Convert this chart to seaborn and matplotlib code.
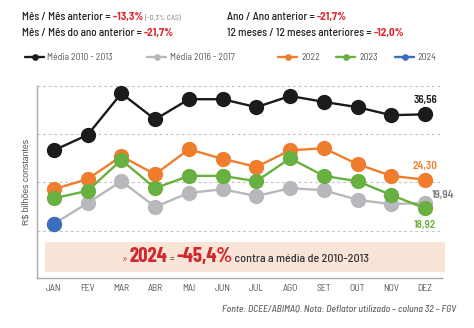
import matplotlib
matplotlib.use("Agg")
import matplotlib.pyplot as plt
from matplotlib.lines import Line2D
from matplotlib.patches import Rectangle
from matplotlib import transforms
import numpy as np
import pandas as pd
import seaborn as sns

# Monthly values, R$ billions (constant prices)
meses = ["JAN", "FEV", "MAR", "ABR", "MAI", "JUN", "JUL", "AGO", "SET", "OUT", "NOV", "DEZ"]
media_2010_2013 = [29.8, 32.7, 40.5, 35.6, 39.4, 39.4, 37.9, 40.0, 38.9, 37.9, 36.4, 36.56]
media_2016_2017 = [16.0, 19.9, 24.0, 19.2, 21.8, 22.5, 21.2, 22.7, 22.3, 20.5, 19.7, 19.94]
ano_2022 = [22.5, 24.4, 28.7, 25.3, 30.0, 28.2, 26.7, 29.8, 30.2, 27.2, 25.0, 24.30]
ano_2023 = [20.8, 22.2, 28.0, 22.7, 25.0, 25.0, 24.0, 28.3, 25.0, 24.0, 21.4, 18.92]
ano_2024 = [16.0]

series_names = ["Média 2010 - 2013", "Média 2016 - 2017", "2022", "2023", "2024"]
series_values = [media_2010_2013, media_2016_2017, ano_2022, ano_2023, ano_2024]
series_colors = ["#1b1b1b", "#b7b8bc", "#ef7d2d", "#68b03f", "#3c6ec0"]

rows = []
for name, vals in zip(series_names, series_values):
    for i, v in enumerate(vals):
        rows.append({"mes": i, "valor": v, "serie": name})
df = pd.DataFrame(rows)

W, H = 474, 328
sns.set_theme(style="white")
COND = ["Barlow Semi Condensed", "DejaVu Sans"]
NARROW = ["Barlow Condensed", "DejaVu Sans"]
plt.rcParams["font.family"] = COND

fig = plt.figure(figsize=(W / 100, H / 100), dpi=100)
fig.patch.set_facecolor("white")


def fx(px):
    return px / W


def fy(py):
    return 1 - py / H


ax = fig.add_axes([fx(37), fy(278), fx(442) - fx(37), fy(86) - fy(278)])
ax.set_facecolor("white")

YMIN, YMAX = 5.83, 41.88
ax.set_xlim(-0.5, 11.5)
ax.set_ylim(YMIN, YMAX)

# Dashed reference lines
for g in [14.65, 23.8, 32.85, YMAX]:
    ax.axhline(g, color="#c4c4c4", lw=0.8, ls=(0, (2.5, 2.5)), zorder=0, clip_on=False)

# Highlight box behind the headline comparison
ax.add_patch(Rectangle((-0.27, 6.96), 11.85, 5.63, facecolor="#f9e4d8",
                       edgecolor="none", zorder=1, clip_on=False))

sns.lineplot(data=df, x="mes", y="valor", hue="serie", hue_order=series_names,
             palette=series_colors, marker="o", markersize=11, markeredgewidth=0,
             linewidth=1.7, legend=False, ax=ax, zorder=3)
for ln in ax.lines:
    ln.set_clip_on(False)

ax.set_xticks(range(12))
ax.set_xticklabels(meses)
ax.set_yticks([])
ax.set_xlabel("")
ax.set_ylabel("R$ bilhões constantes", family=["Liberation Sans", "DejaVu Sans"],
              fontsize=6.3, color="#555555", labelpad=4)
ax.tick_params(axis="x", length=0, pad=4, labelsize=7, labelcolor="#555555")
for s in ["top", "right"]:
    ax.spines[s].set_visible(False)
for s in ["left", "bottom"]:
    ax.spines[s].set_color("#aaaaaa")
    ax.spines[s].set_linewidth(1.0)


def end_label(y, text, color, dx, dy, ha, va):
    tr = transforms.offset_copy(ax.transData, fig=fig, x=dx, y=dy, units="points")
    ax.text(11, y, text, transform=tr, ha=ha, va=va, color=color,
            fontsize=8, fontweight="semibold", family=COND, zorder=5)


# End-of-year value labels
end_label(media_2010_2013[-1], "36,56", series_colors[0], 0, 6.5, "center", "bottom")
end_label(ano_2022[-1], "24,30", series_colors[2], 0, 6.5, "center", "bottom")
end_label(media_2016_2017[-1], "19,94", "#7a7a7e", 4.5, 5.5, "left", "center")
end_label(ano_2023[-1], "18,92", series_colors[3], 0, -8.5, "center", "top")

renderer = fig.canvas.get_renderer()


def chain(x_px, y_px, parts, va="baseline"):
    """Draw consecutive text pieces on one line, starting at pixel x."""
    x = x_px
    for text, kw in parts:
        t = fig.text(fx(x), fy(y_px), text, va=va, ha="left", **kw)
        bb = t.get_window_extent(renderer)
        x = bb.x1
    return x


RED = "#df2a2f"
DARK = "#222222"
hdr = dict(fontsize=8.1, fontweight="medium", color=DARK, family=COND)
hdr_red = dict(fontsize=8.1, fontweight="bold", color=RED, family=COND)

chain(22, 20, [("Mês / Mês anterior = ", hdr), ("-13,3% ", hdr_red),
               ("(-0,3% CAS)", dict(fontsize=5.6, color="#777777", family=COND))])
chain(22, 36, [("Mês / Mês do ano anterior = ", hdr), ("-21,7%", hdr_red)])
chain(227, 20, [("Ano / Ano anterior = ", hdr), ("-21,7%", hdr_red)])
chain(227, 36, [("12 meses / 12 meses anteriores = ", hdr), ("-12,0%", hdr_red)])

# Legend row
leg = [(25, 44, 47), (147, 166, 170), (278, 297, 301), (336, 355, 359), (395, 414, 418)]
for (x0, x1, xt), name, col in zip(leg, series_names, series_colors):
    fig.add_artist(Line2D([fx(x0), fx(x1)], [fy(57), fy(57)], transform=fig.transFigure,
                          color=col, lw=1.7, marker=None))
    fig.add_artist(Line2D([fx((x0 + x1) / 2)], [fy(57)], transform=fig.transFigure,
                          color=col, marker="o", markersize=4.8, markeredgewidth=0))
    fig.text(fx(xt), fy(57), name, va="center", ha="left", fontsize=7,
             color="#555555", family=COND)

# Headline inside the box
chain(122, 262, [("» ", dict(fontsize=8, color="#c0504d", family=COND)),
                 ("2024", dict(fontsize=15, fontweight="bold", color="#d0282d", family=NARROW)),
                 (" = ", dict(fontsize=7, color=DARK, family=COND)),
                 ("-45,4%", dict(fontsize=15, fontweight="bold", color="#d0282d", family=NARROW)),
                 (" contra a média de 2010-2013", dict(fontsize=8.7, fontweight="medium",
                                                        color="#333333", family=COND))])

fig.text(fx(456), fy(309), "Fonte: DCEE/ABIMAQ. Nota: Deflator utilizado – coluna 32 – FGV",
         ha="right", va="center", fontsize=7, style="italic", fontweight="medium",
         color="#666666", family=COND)

fig.savefig("out.png", dpi=100, facecolor="white")
